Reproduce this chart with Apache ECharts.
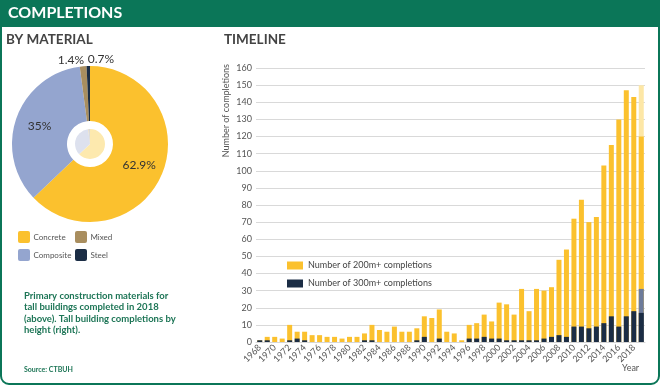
<!DOCTYPE html>
<html>
<head>
<meta charset="utf-8">
<script src="https://cdn.jsdelivr.net/npm/echarts@6/dist/echarts.min.js"></script>
<style>
  html, body { margin: 0; padding: 0; background: #fff; }
  #main { width: 660px; height: 386px; }
</style>
</head>
<body>
<div id="main"></div>
<script>
// 材料占比（2018）
var materials = ['Concrete', 'Composite', 'Mixed', 'Steel'];
var materialShare = [62.9, 35, 1.4, 0.7];

// 年份
var years = [];
for (var y = 1968; y <= 2019; y++) years.push(String(y));

// 200m+ 竣工数
var completions200 = [1, 3, 3, 2, 10, 6, 6, 4, 4, 3, 3, 2, 3, 3, 5, 10, 7, 6, 9, 6,
  6, 8, 15, 14, 19, 6, 5, 1, 10, 11, 16, 12, 23, 22, 16, 31, 18, 31, 30, 32,
  48, 54, 72, 83, 70, 73, 103, 115, 130, 147, 143, 120];
// 300m+ 竣工数
var completions300 = [1, 1, 0, 0, 1, 2, 1, 0, 0, 0, 0, 0, 0, 0, 1, 1, 0, 0, 0, 0,
  0, 1, 3, 0, 2, 0, 0, 0, 2, 2, 3, 2, 2, 1, 1, 1, 1, 1, 2, 3,
  4, 3, 9, 9, 8, 9, 11, 15, 9, 15, 18, 17];
// 2019 预计值
var projected200 = 150;
var projected300 = 31;

var yTicks = { min: 0, max: 160, interval: 10 };

var green = '#0b7658';
var matColors = ['#fbc12e', '#94a5cf', '#a98e5f', '#1b2d45'];
var paleColors = ['#fde9ae', '#dde1ee', '#e8dcc5', '#c5cad3'];

var last = years.length - 1;
function onlyLast(v) {
  return years.map(function (y, i) { return i === last ? v : null; });
}

var squareIcon = 'path://M2,0 L10,0 Q12,0 12,2 L12,10 Q12,12 10,12 L2,12 Q0,12 0,10 L0,2 Q0,0 2,0 Z';

var myChart = echarts.init(document.getElementById('main'));
var option = {
  animation: false,
  textStyle: { fontFamily: 'Lato' },
  graphic: [
    { type: 'rect', shape: { x: 0, y: 0, width: 660, height: 27 }, style: { fill: green } },
    { type: 'rect', shape: { x: 1, y: 1, width: 658, height: 383, r: [0, 0, 8, 8] },
      style: { fill: 'none', stroke: green, lineWidth: 2 } },
    { type: 'text', left: 222, top: 64, rotation: Math.PI / 2,
      style: { text: 'Number of completions', fontSize: 9, fill: '#555', fontFamily: 'Lato' } },
    { type: 'text', left: 622, top: 364,
      style: { text: 'Year', fontSize: 9, fill: '#555', fontFamily: 'Lato' } }
  ],
  title: [
    { text: 'COMPLETIONS', left: 8, top: 5, padding: 0,
      textStyle: { color: '#fff', fontSize: 16, fontWeight: 'bold', fontFamily: 'Lato' } },
    { text: 'BY MATERIAL', left: 6, top: 33, padding: 0,
      textStyle: { color: '#444', fontSize: 13.5, fontWeight: 'bold', fontFamily: 'Lato' } },
    { text: 'TIMELINE', left: 224, top: 33, padding: 0,
      textStyle: { color: '#444', fontSize: 13.5, fontWeight: 'bold', fontFamily: 'Lato' } },
    { text: 'Primary construction materials for\ntall buildings completed in 2018\n(above). Tall building completions by\nheight (right).',
      left: 24, top: 290, padding: 0,
      textStyle: { color: '#1d7556', fontSize: 9.5, fontWeight: 'bold', lineHeight: 11.5, fontFamily: 'Lato' } },
    { text: 'Source: CTBUH', left: 24, top: 366, padding: 0,
      textStyle: { color: '#1d7556', fontSize: 7, fontWeight: 'bold', fontFamily: 'Lato' } }
  ],
  legend: [
    { data: ['Concrete', 'Composite'], orient: 'vertical', left: 18, top: 231, padding: 0,
      itemWidth: 13, itemHeight: 12, itemGap: 6, icon: squareIcon,
      textStyle: { fontSize: 8, color: '#555', padding: [0, 0, 0, -2] }, selectedMode: false },
    { data: ['Mixed', 'Steel'], orient: 'vertical', left: 75, top: 231, padding: 0,
      itemWidth: 13, itemHeight: 12, itemGap: 6, icon: squareIcon,
      textStyle: { fontSize: 8, color: '#555', padding: [0, 0, 0, -2] }, selectedMode: false },
    { data: ['Number of 200m+ completions', 'Number of 300m+ completions'],
      orient: 'vertical', left: 287, top: 261, padding: 0, itemWidth: 16, itemHeight: 8, itemGap: 9,
      icon: 'rect', textStyle: { fontSize: 9, color: '#444' }, selectedMode: false }
  ],
  grid: { left: 256, right: 15, top: 68, bottom: 44 },
  xAxis: {
    type: 'category',
    data: years,
    axisTick: { show: false },
    axisLine: { lineStyle: { color: '#d6d6d6' } },
    axisLabel: { interval: 1, rotate: 45, fontSize: 9, color: '#555', margin: 4 }
  },
  yAxis: {
    type: 'value',
    min: yTicks.min, max: yTicks.max, interval: yTicks.interval,
    axisLabel: { fontSize: 9, color: '#555', margin: 4 },
    splitLine: { lineStyle: { color: '#d9d9d9' } }
  },
  series: [
    {
      type: 'pie', name: 'material', radius: [23, 78], center: [90, 144],
      startAngle: 90,
      data: materials.map(function (m, i) {
        return { name: m, value: materialShare[i], itemStyle: { color: matColors[i] } };
      }),
      label: { position: 'inside', formatter: '{c}%', fontSize: 12, color: '#333' },
      labelLine: { show: false },
      labelLayout: function (p) {
        if (p.dataIndex === 2) return { x: 71, y: 60 };
        if (p.dataIndex === 3) return { x: 101, y: 59 };
      },
      emphasis: { disabled: true }
    },
    {
      type: 'pie', name: 'inner', radius: [0, 15], center: [90, 144], startAngle: 90,
      silent: true,
      data: materials.map(function (m, i) {
        return { name: m + ' ', value: materialShare[i], itemStyle: { color: paleColors[i] } };
      }),
      label: { show: false }, labelLine: { show: false }
    },
    {
      type: 'bar', name: 'Projected 200m+', data: onlyLast(projected200),
      barWidth: 5, barGap: '-100%', itemStyle: { color: '#fde7a6' }
    },
    {
      type: 'bar', name: 'Number of 200m+ completions', data: completions200,
      barWidth: 5, barGap: '-100%', itemStyle: { color: '#fbc12e' }
    },
    {
      type: 'bar', name: 'Projected 300m+', data: onlyLast(projected300),
      barWidth: 5, barGap: '-100%', itemStyle: { color: '#6d7b9a' }
    },
    {
      type: 'bar', name: 'Number of 300m+ completions', data: completions300,
      barWidth: 5, barGap: '-100%', itemStyle: { color: '#1b2d45' }
    }
  ]
};
myChart.setOption(option);
</script>
</body>
</html>
